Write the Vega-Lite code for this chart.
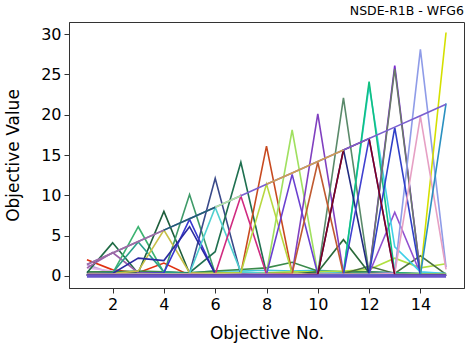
{
"$schema":"https://vega.github.io/schema/vega-lite/v6.json",
"width":395,"height":266,
"autosize":{"type":"none"},
"padding":{"left":69,"top":22,"right":10,"bottom":65},
"title":{"text":"NSDE-R1B - WFG6","anchor":"end","fontSize":12.5,"fontWeight":"normal","font":"DejaVu Sans","color":"#000","offset":5},
"config":{"view":{"stroke":"#333","strokeWidth":1},"axis":{"grid":false,"domainColor":"#333","tickColor":"#333","labelColor":"#000","titleColor":"#000","labelFont":"DejaVu Sans","titleFont":"DejaVu Sans","labelFontSize":16,"titleFontSize":17,"titleFontWeight":"normal","tickSize":5}},
"data":{"values":[
{"s":"red","x":1,"y":2.0},{"s":"red","x":2,"y":0.75},{"s":"red","x":3,"y":0.4},{"s":"red","x":4,"y":1.6},{"s":"red","x":5,"y":0.1},{"s":"red","x":6,"y":0.05},{"s":"red","x":7,"y":0.05},{"s":"red","x":8,"y":0.05},{"s":"red","x":9,"y":0.05},{"s":"red","x":10,"y":0.05},{"s":"red","x":11,"y":0.05},{"s":"red","x":12,"y":0.05},{"s":"red","x":13,"y":0.05},{"s":"red","x":14,"y":0.05},{"s":"red","x":15,"y":0.05},
{"s":"lav","x":1,"y":1.4},{"s":"lav","x":2,"y":0.3},{"s":"lav","x":3,"y":0.2},{"s":"lav","x":4,"y":0.2},{"s":"lav","x":5,"y":0.1},{"s":"lav","x":6,"y":0.1},{"s":"lav","x":7,"y":0.1},{"s":"lav","x":8,"y":0.1},{"s":"lav","x":9,"y":0.1},{"s":"lav","x":10,"y":0.1},{"s":"lav","x":11,"y":0.1},{"s":"lav","x":12,"y":0.1},{"s":"lav","x":13,"y":0.1},{"s":"lav","x":14,"y":0.1},{"s":"lav","x":15,"y":0.1},
{"s":"pkl","x":1,"y":1.0},{"s":"pkl","x":2,"y":0.6},{"s":"pkl","x":3,"y":0.3},{"s":"pkl","x":4,"y":0.3},{"s":"pkl","x":5,"y":0.3},{"s":"pkl","x":6,"y":0.2},{"s":"pkl","x":7,"y":0.2},{"s":"pkl","x":8,"y":0.2},{"s":"pkl","x":9,"y":0.2},{"s":"pkl","x":10,"y":0.2},{"s":"pkl","x":11,"y":0.2},{"s":"pkl","x":12,"y":0.2},{"s":"pkl","x":13,"y":0.2},{"s":"pkl","x":14,"y":0.2},{"s":"pkl","x":15,"y":0.2},
{"s":"cyl","x":1,"y":0.2},{"s":"cyl","x":2,"y":0.2},{"s":"cyl","x":3,"y":0.3},{"s":"cyl","x":4,"y":0.3},{"s":"cyl","x":5,"y":0.4},{"s":"cyl","x":6,"y":0.6},{"s":"cyl","x":7,"y":0.6},{"s":"cyl","x":8,"y":0.7},{"s":"cyl","x":9,"y":0.6},{"s":"cyl","x":10,"y":0.7},{"s":"cyl","x":11,"y":0.5},{"s":"cyl","x":12,"y":0.5},{"s":"cyl","x":13,"y":0.4},{"s":"cyl","x":14,"y":0.3},{"s":"cyl","x":15,"y":0.2},
{"s":"g9","x":1,"y":0.5},{"s":"g9","x":2,"y":0.5},{"s":"g9","x":3,"y":0.6},{"s":"g9","x":4,"y":0.5},{"s":"g9","x":5,"y":0.4},{"s":"g9","x":6,"y":0.6},{"s":"g9","x":7,"y":0.8},{"s":"g9","x":8,"y":1.0},{"s":"g9","x":9,"y":1.7},{"s":"g9","x":10,"y":0.6},{"s":"g9","x":11,"y":0.5},{"s":"g9","x":12,"y":0.5},{"s":"g9","x":13,"y":0.4},{"s":"g9","x":14,"y":0.3},{"s":"g9","x":15,"y":0.3},
{"s":"yg","x":1,"y":0.3},{"s":"yg","x":2,"y":0.3},{"s":"yg","x":3,"y":0.3},{"s":"yg","x":4,"y":0.3},{"s":"yg","x":5,"y":0.3},{"s":"yg","x":6,"y":0.4},{"s":"yg","x":7,"y":0.4},{"s":"yg","x":8,"y":0.4},{"s":"yg","x":9,"y":0.5},{"s":"yg","x":10,"y":0.5},{"s":"yg","x":11,"y":0.6},{"s":"yg","x":12,"y":0.8},{"s":"yg","x":13,"y":2.2},{"s":"yg","x":14,"y":1.0},{"s":"yg","x":15,"y":1.5},
{"s":"og","x":1,"y":0.3},{"s":"og","x":2,"y":0.3},{"s":"og","x":3,"y":0.3},{"s":"og","x":4,"y":0.3},{"s":"og","x":5,"y":0.3},{"s":"og","x":6,"y":0.3},{"s":"og","x":7,"y":0.3},{"s":"og","x":8,"y":0.3},{"s":"og","x":9,"y":0.3},{"s":"og","x":10,"y":0.3},{"s":"og","x":11,"y":0.3},{"s":"og","x":12,"y":1.2},{"s":"og","x":13,"y":0.3},{"s":"og","x":14,"y":2.5},{"s":"og","x":15,"y":0.2},
{"s":"dg11","x":1,"y":0.2},{"s":"dg11","x":2,"y":0.2},{"s":"dg11","x":3,"y":0.2},{"s":"dg11","x":4,"y":0.2},{"s":"dg11","x":5,"y":0.2},{"s":"dg11","x":6,"y":0.2},{"s":"dg11","x":7,"y":0.2},{"s":"dg11","x":8,"y":0.2},{"s":"dg11","x":9,"y":0.2},{"s":"dg11","x":10,"y":0.5},{"s":"dg11","x":11,"y":4.5},{"s":"dg11","x":12,"y":0.4},{"s":"dg11","x":13,"y":0.2},{"s":"dg11","x":14,"y":0.2},{"s":"dg11","x":15,"y":0.2},
{"s":"pu13","x":1,"y":0.1},{"s":"pu13","x":2,"y":0.1},{"s":"pu13","x":3,"y":0.1},{"s":"pu13","x":4,"y":0.1},{"s":"pu13","x":5,"y":0.1},{"s":"pu13","x":6,"y":0.1},{"s":"pu13","x":7,"y":0.1},{"s":"pu13","x":8,"y":0.1},{"s":"pu13","x":9,"y":0.1},{"s":"pu13","x":10,"y":0.1},{"s":"pu13","x":11,"y":0.2},{"s":"pu13","x":12,"y":0.3},{"s":"pu13","x":13,"y":7.9},{"s":"pu13","x":14,"y":0.3},{"s":"pu13","x":15,"y":0.2},
{"s":"cyh","x":1,"y":0.2},{"s":"cyh","x":2,"y":0.2},{"s":"cyh","x":3,"y":0.2},{"s":"cyh","x":4,"y":0.2},{"s":"cyh","x":5,"y":0.2},{"s":"cyh","x":6,"y":0.2},{"s":"cyh","x":7,"y":0.2},{"s":"cyh","x":8,"y":0.2},{"s":"cyh","x":9,"y":0.2},{"s":"cyh","x":10,"y":0.3},{"s":"cyh","x":11,"y":0.4},{"s":"cyh","x":12,"y":23.6},{"s":"cyh","x":13,"y":3.6},{"s":"cyh","x":14,"y":0.5},{"s":"cyh","x":15,"y":0.3},
{"s":"p2","x":1,"y":0.4},{"s":"p2","x":2,"y":4.1},{"s":"p2","x":3,"y":0.3},{"s":"p2","x":4,"y":0.2},{"s":"p2","x":5,"y":0.2},{"s":"p2","x":6,"y":0.1},{"s":"p2","x":7,"y":0.1},{"s":"p2","x":8,"y":0.1},{"s":"p2","x":9,"y":0.1},{"s":"p2","x":10,"y":0.1},{"s":"p2","x":11,"y":0.1},{"s":"p2","x":12,"y":0.1},{"s":"p2","x":13,"y":0.1},{"s":"p2","x":14,"y":0.1},{"s":"p2","x":15,"y":0.1},
{"s":"p3","x":1,"y":0.2},{"s":"p3","x":2,"y":0.3},{"s":"p3","x":3,"y":6.1},{"s":"p3","x":4,"y":0.4},{"s":"p3","x":5,"y":0.2},{"s":"p3","x":6,"y":0.2},{"s":"p3","x":7,"y":0.1},{"s":"p3","x":8,"y":0.1},{"s":"p3","x":9,"y":0.1},{"s":"p3","x":10,"y":0.1},{"s":"p3","x":11,"y":0.1},{"s":"p3","x":12,"y":0.1},{"s":"p3","x":13,"y":0.1},{"s":"p3","x":14,"y":0.1},{"s":"p3","x":15,"y":0.1},
{"s":"p4","x":1,"y":0.1},{"s":"p4","x":2,"y":0.3},{"s":"p4","x":3,"y":0.4},{"s":"p4","x":4,"y":8.0},{"s":"p4","x":5,"y":0.3},{"s":"p4","x":6,"y":0.2},{"s":"p4","x":7,"y":0.2},{"s":"p4","x":8,"y":0.1},{"s":"p4","x":9,"y":0.1},{"s":"p4","x":10,"y":0.1},{"s":"p4","x":11,"y":0.1},{"s":"p4","x":12,"y":0.1},{"s":"p4","x":13,"y":0.1},{"s":"p4","x":14,"y":0.1},{"s":"p4","x":15,"y":0.1},
{"s":"p5","x":1,"y":0.1},{"s":"p5","x":2,"y":0.2},{"s":"p5","x":3,"y":0.2},{"s":"p5","x":4,"y":0.3},{"s":"p5","x":5,"y":10.1},{"s":"p5","x":6,"y":0.3},{"s":"p5","x":7,"y":0.2},{"s":"p5","x":8,"y":0.1},{"s":"p5","x":9,"y":0.1},{"s":"p5","x":10,"y":0.1},{"s":"p5","x":11,"y":0.1},{"s":"p5","x":12,"y":0.1},{"s":"p5","x":13,"y":0.1},{"s":"p5","x":14,"y":0.1},{"s":"p5","x":15,"y":0.1},
{"s":"p6","x":1,"y":0.1},{"s":"p6","x":2,"y":0.1},{"s":"p6","x":3,"y":0.2},{"s":"p6","x":4,"y":0.2},{"s":"p6","x":5,"y":0.3},{"s":"p6","x":6,"y":12.1},{"s":"p6","x":7,"y":0.2},{"s":"p6","x":8,"y":0.1},{"s":"p6","x":9,"y":0.1},{"s":"p6","x":10,"y":0.1},{"s":"p6","x":11,"y":0.1},{"s":"p6","x":12,"y":0.1},{"s":"p6","x":13,"y":0.1},{"s":"p6","x":14,"y":0.1},{"s":"p6","x":15,"y":0.1},
{"s":"p7","x":1,"y":0.1},{"s":"p7","x":2,"y":0.1},{"s":"p7","x":3,"y":0.1},{"s":"p7","x":4,"y":0.2},{"s":"p7","x":5,"y":0.4},{"s":"p7","x":6,"y":3.0},{"s":"p7","x":7,"y":14.1},{"s":"p7","x":8,"y":0.3},{"s":"p7","x":9,"y":0.2},{"s":"p7","x":10,"y":0.1},{"s":"p7","x":11,"y":0.1},{"s":"p7","x":12,"y":0.1},{"s":"p7","x":13,"y":0.1},{"s":"p7","x":14,"y":0.1},{"s":"p7","x":15,"y":0.1},
{"s":"p8","x":1,"y":0.1},{"s":"p8","x":2,"y":0.1},{"s":"p8","x":3,"y":0.1},{"s":"p8","x":4,"y":0.1},{"s":"p8","x":5,"y":0.2},{"s":"p8","x":6,"y":0.2},{"s":"p8","x":7,"y":0.3},{"s":"p8","x":8,"y":16.1},{"s":"p8","x":9,"y":0.3},{"s":"p8","x":10,"y":0.1},{"s":"p8","x":11,"y":0.1},{"s":"p8","x":12,"y":0.1},{"s":"p8","x":13,"y":0.1},{"s":"p8","x":14,"y":0.1},{"s":"p8","x":15,"y":0.1},
{"s":"p9","x":1,"y":0.1},{"s":"p9","x":2,"y":0.1},{"s":"p9","x":3,"y":0.1},{"s":"p9","x":4,"y":0.1},{"s":"p9","x":5,"y":0.1},{"s":"p9","x":6,"y":0.2},{"s":"p9","x":7,"y":0.2},{"s":"p9","x":8,"y":0.4},{"s":"p9","x":9,"y":18.1},{"s":"p9","x":10,"y":0.3},{"s":"p9","x":11,"y":0.2},{"s":"p9","x":12,"y":0.1},{"s":"p9","x":13,"y":0.1},{"s":"p9","x":14,"y":0.1},{"s":"p9","x":15,"y":0.1},
{"s":"p10","x":1,"y":0.1},{"s":"p10","x":2,"y":0.1},{"s":"p10","x":3,"y":0.1},{"s":"p10","x":4,"y":0.1},{"s":"p10","x":5,"y":0.1},{"s":"p10","x":6,"y":0.1},{"s":"p10","x":7,"y":0.2},{"s":"p10","x":8,"y":0.2},{"s":"p10","x":9,"y":0.3},{"s":"p10","x":10,"y":20.1},{"s":"p10","x":11,"y":0.3},{"s":"p10","x":12,"y":0.2},{"s":"p10","x":13,"y":0.1},{"s":"p10","x":14,"y":0.1},{"s":"p10","x":15,"y":0.1},
{"s":"p11","x":1,"y":0.1},{"s":"p11","x":2,"y":0.1},{"s":"p11","x":3,"y":0.1},{"s":"p11","x":4,"y":0.1},{"s":"p11","x":5,"y":0.1},{"s":"p11","x":6,"y":0.1},{"s":"p11","x":7,"y":0.1},{"s":"p11","x":8,"y":0.2},{"s":"p11","x":9,"y":0.2},{"s":"p11","x":10,"y":0.3},{"s":"p11","x":11,"y":22.1},{"s":"p11","x":12,"y":0.3},{"s":"p11","x":13,"y":0.2},{"s":"p11","x":14,"y":0.1},{"s":"p11","x":15,"y":0.1},
{"s":"p12","x":1,"y":0.1},{"s":"p12","x":2,"y":0.1},{"s":"p12","x":3,"y":0.1},{"s":"p12","x":4,"y":0.1},{"s":"p12","x":5,"y":0.1},{"s":"p12","x":6,"y":0.1},{"s":"p12","x":7,"y":0.1},{"s":"p12","x":8,"y":0.1},{"s":"p12","x":9,"y":0.2},{"s":"p12","x":10,"y":0.2},{"s":"p12","x":11,"y":0.3},{"s":"p12","x":12,"y":24.1},{"s":"p12","x":13,"y":0.4},{"s":"p12","x":14,"y":0.2},{"s":"p12","x":15,"y":0.1},
{"s":"p13a","x":1,"y":0.1},{"s":"p13a","x":2,"y":0.1},{"s":"p13a","x":3,"y":0.1},{"s":"p13a","x":4,"y":0.1},{"s":"p13a","x":5,"y":0.1},{"s":"p13a","x":6,"y":0.1},{"s":"p13a","x":7,"y":0.1},{"s":"p13a","x":8,"y":0.1},{"s":"p13a","x":9,"y":0.1},{"s":"p13a","x":10,"y":0.2},{"s":"p13a","x":11,"y":0.2},{"s":"p13a","x":12,"y":0.3},{"s":"p13a","x":13,"y":26.1},{"s":"p13a","x":14,"y":0.3},{"s":"p13a","x":15,"y":0.2},
{"s":"p13b","x":1,"y":0.2},{"s":"p13b","x":2,"y":0.2},{"s":"p13b","x":3,"y":0.2},{"s":"p13b","x":4,"y":0.2},{"s":"p13b","x":5,"y":0.2},{"s":"p13b","x":6,"y":0.2},{"s":"p13b","x":7,"y":0.2},{"s":"p13b","x":8,"y":0.2},{"s":"p13b","x":9,"y":0.2},{"s":"p13b","x":10,"y":0.2},{"s":"p13b","x":11,"y":0.3},{"s":"p13b","x":12,"y":0.2},{"s":"p13b","x":13,"y":25.7},{"s":"p13b","x":14,"y":0.3},{"s":"p13b","x":15,"y":0.2},
{"s":"p14","x":1,"y":0.1},{"s":"p14","x":2,"y":0.1},{"s":"p14","x":3,"y":0.1},{"s":"p14","x":4,"y":0.1},{"s":"p14","x":5,"y":0.1},{"s":"p14","x":6,"y":0.1},{"s":"p14","x":7,"y":0.1},{"s":"p14","x":8,"y":0.1},{"s":"p14","x":9,"y":0.1},{"s":"p14","x":10,"y":0.1},{"s":"p14","x":11,"y":0.2},{"s":"p14","x":12,"y":0.3},{"s":"p14","x":13,"y":0.4},{"s":"p14","x":14,"y":28.1},{"s":"p14","x":15,"y":1.1},
{"s":"p15","x":1,"y":0.1},{"s":"p15","x":2,"y":0.1},{"s":"p15","x":3,"y":0.1},{"s":"p15","x":4,"y":0.1},{"s":"p15","x":5,"y":0.1},{"s":"p15","x":6,"y":0.1},{"s":"p15","x":7,"y":0.1},{"s":"p15","x":8,"y":0.1},{"s":"p15","x":9,"y":0.1},{"s":"p15","x":10,"y":0.1},{"s":"p15","x":11,"y":0.1},{"s":"p15","x":12,"y":0.2},{"s":"p15","x":13,"y":0.2},{"s":"p15","x":14,"y":0.2},{"s":"p15","x":15,"y":30.2},
{"s":"s2","x":1,"y":1.0},{"s":"s2","x":2,"y":2.9},{"s":"s2","x":3,"y":0.4},{"s":"s2","x":4,"y":0.3},{"s":"s2","x":5,"y":0.2},{"s":"s2","x":6,"y":0.1},{"s":"s2","x":7,"y":0.1},{"s":"s2","x":8,"y":0.1},{"s":"s2","x":9,"y":0.1},{"s":"s2","x":10,"y":0.1},{"s":"s2","x":11,"y":0.1},{"s":"s2","x":12,"y":0.1},{"s":"s2","x":13,"y":0.1},{"s":"s2","x":14,"y":0.1},{"s":"s2","x":15,"y":0.1},
{"s":"s3","x":1,"y":0.2},{"s":"s3","x":2,"y":0.4},{"s":"s3","x":3,"y":4.2},{"s":"s3","x":4,"y":0.5},{"s":"s3","x":5,"y":0.3},{"s":"s3","x":6,"y":0.2},{"s":"s3","x":7,"y":0.2},{"s":"s3","x":8,"y":0.2},{"s":"s3","x":9,"y":0.2},{"s":"s3","x":10,"y":0.2},{"s":"s3","x":11,"y":0.2},{"s":"s3","x":12,"y":0.2},{"s":"s3","x":13,"y":0.2},{"s":"s3","x":14,"y":0.2},{"s":"s3","x":15,"y":0.2},
{"s":"s4","x":1,"y":0.2},{"s":"s4","x":2,"y":0.3},{"s":"s4","x":3,"y":0.6},{"s":"s4","x":4,"y":5.7},{"s":"s4","x":5,"y":0.4},{"s":"s4","x":6,"y":0.2},{"s":"s4","x":7,"y":0.2},{"s":"s4","x":8,"y":0.2},{"s":"s4","x":9,"y":0.2},{"s":"s4","x":10,"y":0.2},{"s":"s4","x":11,"y":0.2},{"s":"s4","x":12,"y":0.2},{"s":"s4","x":13,"y":0.2},{"s":"s4","x":14,"y":0.2},{"s":"s4","x":15,"y":0.2},
{"s":"s5","x":1,"y":0.1},{"s":"s5","x":2,"y":0.2},{"s":"s5","x":3,"y":0.3},{"s":"s5","x":4,"y":0.4},{"s":"s5","x":5,"y":7.0},{"s":"s5","x":6,"y":0.2},{"s":"s5","x":7,"y":0.2},{"s":"s5","x":8,"y":0.1},{"s":"s5","x":9,"y":0.1},{"s":"s5","x":10,"y":0.1},{"s":"s5","x":11,"y":0.1},{"s":"s5","x":12,"y":0.1},{"s":"s5","x":13,"y":0.1},{"s":"s5","x":14,"y":0.1},{"s":"s5","x":15,"y":0.1},
{"s":"s5b","x":1,"y":0.3},{"s":"s5b","x":2,"y":0.3},{"s":"s5b","x":3,"y":2.2},{"s":"s5b","x":4,"y":1.9},{"s":"s5b","x":5,"y":6.1},{"s":"s5b","x":6,"y":0.3},{"s":"s5b","x":7,"y":0.2},{"s":"s5b","x":8,"y":0.2},{"s":"s5b","x":9,"y":0.2},{"s":"s5b","x":10,"y":0.2},{"s":"s5b","x":11,"y":0.2},{"s":"s5b","x":12,"y":0.2},{"s":"s5b","x":13,"y":0.2},{"s":"s5b","x":14,"y":0.2},{"s":"s5b","x":15,"y":0.2},
{"s":"s6","x":1,"y":0.1},{"s":"s6","x":2,"y":0.1},{"s":"s6","x":3,"y":0.2},{"s":"s6","x":4,"y":0.2},{"s":"s6","x":5,"y":0.3},{"s":"s6","x":6,"y":8.5},{"s":"s6","x":7,"y":0.5},{"s":"s6","x":8,"y":0.3},{"s":"s6","x":9,"y":0.2},{"s":"s6","x":10,"y":0.2},{"s":"s6","x":11,"y":0.2},{"s":"s6","x":12,"y":0.2},{"s":"s6","x":13,"y":0.2},{"s":"s6","x":14,"y":0.2},{"s":"s6","x":15,"y":0.2},
{"s":"s7","x":1,"y":0.1},{"s":"s7","x":2,"y":0.1},{"s":"s7","x":3,"y":0.1},{"s":"s7","x":4,"y":0.1},{"s":"s7","x":5,"y":0.2},{"s":"s7","x":6,"y":0.2},{"s":"s7","x":7,"y":9.9},{"s":"s7","x":8,"y":0.2},{"s":"s7","x":9,"y":0.1},{"s":"s7","x":10,"y":0.1},{"s":"s7","x":11,"y":0.1},{"s":"s7","x":12,"y":0.1},{"s":"s7","x":13,"y":0.1},{"s":"s7","x":14,"y":0.1},{"s":"s7","x":15,"y":0.1},
{"s":"s8","x":1,"y":0.2},{"s":"s8","x":2,"y":0.2},{"s":"s8","x":3,"y":0.2},{"s":"s8","x":4,"y":0.2},{"s":"s8","x":5,"y":0.2},{"s":"s8","x":6,"y":0.3},{"s":"s8","x":7,"y":0.4},{"s":"s8","x":8,"y":11.4},{"s":"s8","x":9,"y":0.3},{"s":"s8","x":10,"y":0.2},{"s":"s8","x":11,"y":0.2},{"s":"s8","x":12,"y":0.2},{"s":"s8","x":13,"y":0.2},{"s":"s8","x":14,"y":0.2},{"s":"s8","x":15,"y":0.2},
{"s":"s9","x":1,"y":0.1},{"s":"s9","x":2,"y":0.1},{"s":"s9","x":3,"y":0.1},{"s":"s9","x":4,"y":0.1},{"s":"s9","x":5,"y":0.1},{"s":"s9","x":6,"y":0.1},{"s":"s9","x":7,"y":0.1},{"s":"s9","x":8,"y":0.2},{"s":"s9","x":9,"y":12.6},{"s":"s9","x":10,"y":0.2},{"s":"s9","x":11,"y":0.1},{"s":"s9","x":12,"y":0.1},{"s":"s9","x":13,"y":0.1},{"s":"s9","x":14,"y":0.1},{"s":"s9","x":15,"y":0.1},
{"s":"s10","x":1,"y":0.1},{"s":"s10","x":2,"y":0.1},{"s":"s10","x":3,"y":0.1},{"s":"s10","x":4,"y":0.1},{"s":"s10","x":5,"y":0.1},{"s":"s10","x":6,"y":0.1},{"s":"s10","x":7,"y":0.1},{"s":"s10","x":8,"y":0.2},{"s":"s10","x":9,"y":0.3},{"s":"s10","x":10,"y":14.1},{"s":"s10","x":11,"y":0.2},{"s":"s10","x":12,"y":0.1},{"s":"s10","x":13,"y":0.1},{"s":"s10","x":14,"y":0.1},{"s":"s10","x":15,"y":0.1},
{"s":"s11","x":1,"y":0.1},{"s":"s11","x":2,"y":0.1},{"s":"s11","x":3,"y":0.1},{"s":"s11","x":4,"y":0.1},{"s":"s11","x":5,"y":0.1},{"s":"s11","x":6,"y":0.1},{"s":"s11","x":7,"y":0.1},{"s":"s11","x":8,"y":0.1},{"s":"s11","x":9,"y":0.1},{"s":"s11","x":10,"y":0.2},{"s":"s11","x":11,"y":15.7},{"s":"s11","x":12,"y":0.1},{"s":"s11","x":13,"y":0.1},{"s":"s11","x":14,"y":0.1},{"s":"s11","x":15,"y":0.1},
{"s":"s12","x":1,"y":0.1},{"s":"s12","x":2,"y":0.1},{"s":"s12","x":3,"y":0.1},{"s":"s12","x":4,"y":0.1},{"s":"s12","x":5,"y":0.1},{"s":"s12","x":6,"y":0.1},{"s":"s12","x":7,"y":0.1},{"s":"s12","x":8,"y":0.1},{"s":"s12","x":9,"y":0.1},{"s":"s12","x":10,"y":0.1},{"s":"s12","x":11,"y":0.2},{"s":"s12","x":12,"y":17.0},{"s":"s12","x":13,"y":0.2},{"s":"s12","x":14,"y":0.1},{"s":"s12","x":15,"y":0.1},
{"s":"s13","x":1,"y":0.1},{"s":"s13","x":2,"y":0.1},{"s":"s13","x":3,"y":0.1},{"s":"s13","x":4,"y":0.1},{"s":"s13","x":5,"y":0.1},{"s":"s13","x":6,"y":0.1},{"s":"s13","x":7,"y":0.1},{"s":"s13","x":8,"y":0.1},{"s":"s13","x":9,"y":0.1},{"s":"s13","x":10,"y":0.1},{"s":"s13","x":11,"y":0.1},{"s":"s13","x":12,"y":0.2},{"s":"s13","x":13,"y":18.4},{"s":"s13","x":14,"y":0.1},{"s":"s13","x":15,"y":0.1},
{"s":"s14","x":1,"y":0.2},{"s":"s14","x":2,"y":0.2},{"s":"s14","x":3,"y":0.2},{"s":"s14","x":4,"y":0.2},{"s":"s14","x":5,"y":0.2},{"s":"s14","x":6,"y":0.2},{"s":"s14","x":7,"y":0.2},{"s":"s14","x":8,"y":0.2},{"s":"s14","x":9,"y":0.2},{"s":"s14","x":10,"y":0.2},{"s":"s14","x":11,"y":0.2},{"s":"s14","x":12,"y":0.2},{"s":"s14","x":13,"y":0.3},{"s":"s14","x":14,"y":19.8},{"s":"s14","x":15,"y":0.8},
{"s":"s15","x":1,"y":0.1},{"s":"s15","x":2,"y":0.1},{"s":"s15","x":3,"y":0.1},{"s":"s15","x":4,"y":0.1},{"s":"s15","x":5,"y":0.1},{"s":"s15","x":6,"y":0.1},{"s":"s15","x":7,"y":0.1},{"s":"s15","x":8,"y":0.1},{"s":"s15","x":9,"y":0.1},{"s":"s15","x":10,"y":0.1},{"s":"s15","x":11,"y":0.1},{"s":"s15","x":12,"y":0.1},{"s":"s15","x":13,"y":0.1},{"s":"s15","x":14,"y":0.1},{"s":"s15","x":15,"y":21.4},
{"s":"mar","x":1,"y":0.1},{"s":"mar","x":2,"y":0.1},{"s":"mar","x":3,"y":0.1},{"s":"mar","x":4,"y":0.1},{"s":"mar","x":5,"y":0.1},{"s":"mar","x":6,"y":0.1},{"s":"mar","x":7,"y":0.1},{"s":"mar","x":8,"y":0.1},{"s":"mar","x":9,"y":0.1},{"s":"mar","x":10,"y":0.2},{"s":"mar","x":11,"y":15.62},{"s":"mar","x":12,"y":17.04},{"s":"mar","x":13,"y":0.1},{"s":"mar","x":14,"y":0.1},{"s":"mar","x":15,"y":0.1},
{"s":"diag","x":1,"y":1.42},{"s":"diag","x":2,"y":2.84},{"s":"diag","x":3,"y":4.26},{"s":"diag","x":4,"y":5.68},{"s":"diag","x":5,"y":7.1},{"s":"diag","x":6,"y":8.52},{"s":"diag","x":7,"y":9.94},{"s":"diag","x":8,"y":11.36},{"s":"diag","x":9,"y":12.78},{"s":"diag","x":10,"y":14.2},{"s":"diag","x":11,"y":15.62},{"s":"diag","x":12,"y":17.04},{"s":"diag","x":13,"y":18.46},{"s":"diag","x":14,"y":19.88},{"s":"diag","x":15,"y":21.3},
{"s":"seg1","x":1,"y":1.42},{"s":"seg1","x":2,"y":2.84},{"s":"seg1","x":3,"y":4.26},{"s":"seg1","x":4,"y":5.68},
{"s":"seg2","x":4,"y":5.68},{"s":"seg2","x":5,"y":7.1},{"s":"seg2","x":6,"y":8.52},
{"s":"seg3","x":6,"y":8.52},{"s":"seg3","x":7,"y":9.94},
{"s":"seg4","x":8,"y":11.36},{"s":"seg4","x":9,"y":12.78},{"s":"seg4","x":10,"y":14.2},{"s":"seg4","x":11,"y":15.62},
{"s":"band","x":1,"y":0},{"s":"band","x":2,"y":0},{"s":"band","x":3,"y":0},{"s":"band","x":4,"y":0},{"s":"band","x":5,"y":0},{"s":"band","x":6,"y":0},{"s":"band","x":7,"y":0},{"s":"band","x":8,"y":0},{"s":"band","x":9,"y":0},{"s":"band","x":10,"y":0},{"s":"band","x":11,"y":0},{"s":"band","x":12,"y":0},{"s":"band","x":13,"y":0},{"s":"band","x":14,"y":0},{"s":"band","x":15,"y":0}
]},
"layer":[
{"transform":[{"filter":"datum.s !== 'band'"}],
 "mark":{"type":"line","strokeWidth":1.6},
 "encoding":{
  "x":{"field":"x","type":"quantitative","scale":{"domain":[0.3,15.7],"nice":false,"zero":false},"axis":{"values":[2,4,6,8,10,12,14],"title":"Objective No.","titlePadding":13,"labelPadding":3}},
  "y":{"field":"y","type":"quantitative","scale":{"domain":[-1.5,31.5],"nice":false,"zero":false},"axis":{"values":[0,5,10,15,20,25,30],"title":"Objective Value","titlePadding":18,"labelPadding":3}},
  "color":{"field":"s","type":"nominal","legend":null,"scale":{
   "domain":["red","lav","pkl","cyl","g9","yg","og","dg11","pu13","cyh","p2","p3","p4","p5","p6","p7","p8","p9","p10","p11","p12","p13a","p13b","p14","p15","s2","s3","s4","s5","s5b","s6","s7","s8","s9","s10","s11","s12","s13","s14","s15","mar","diag","seg1","seg2","seg3","seg4"],
   "range":["#e03010","#c0a0e0","#e0b8e8","#40c8d8","#3a8a4a","#b0e040","#4a7040","#2a6a3a","#9050d0","#40d0e8","#1f6b45","#3cb371","#1e5e3c","#3e9a68","#3a4a8a","#1f7050","#c84a20","#a0e060","#8040c0","#5a8a6a","#10c080","#7a2ad0","#6a7a6a","#8f9ce8","#d4e000","#9a60a8","#2aa08a","#c8c048","#3838d0","#2a2aa0","#50d0d0","#d02a80","#b8d840","#6a40d0","#c05a30","#202a80","#4040d0","#3040c8","#e6a0c4","#2a90c0","#800020","#7a5fd0","#a070a0","#206070","#b0e8a0","#d0a050"]}}
 }},
{"transform":[{"filter":"datum.s === 'band'"}],
 "mark":{"type":"line","strokeWidth":3.5,"color":"#6655c8"},
 "encoding":{
  "x":{"field":"x","type":"quantitative"},
  "y":{"field":"y","type":"quantitative"}
 }}
]
}
